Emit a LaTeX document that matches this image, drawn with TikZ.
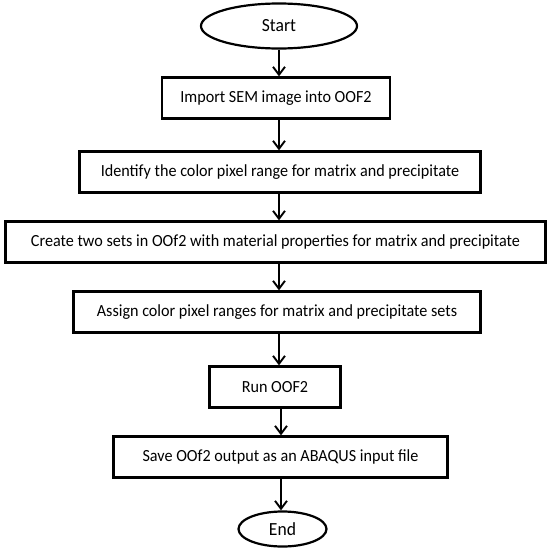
\documentclass[tikz,border=0pt]{standalone}
\usepackage{fontspec}
\setmainfont[FakeStretch=0.95]{Carlito}
\usetikzlibrary{shapes.geometric,arrows.meta}
\begin{document}
\begin{tikzpicture}[x=1pt,y=-1pt,
  stepbox/.style={draw,line width=2.2pt,inner sep=0pt,font=\fontsize{17}{19}\selectfont},
  termnode/.style={ellipse,draw,line width=2.2pt,inner sep=0pt,font=\fontsize{18.5}{20}\selectfont},
  arr/.style={line width=1.9pt,-{Straight Barb[length=8pt,width=12pt,line width=1.9pt]}}]
\useasboundingbox[fill=white] (0,0) rectangle (550,552);
\node[termnode,minimum width=156pt,minimum height=45pt] (start) at (279,26) {Start};
\node[stepbox,minimum width=228pt,minimum height=41pt] (b1) at (276,98) {Import SEM image into OOF2};
\node[stepbox,minimum width=401pt,minimum height=41pt] (b2) at (280,172) {Identify the color pixel range for matrix and precipitate};
\node[stepbox,minimum width=540pt,minimum height=41pt] (b3) at (275.5,242) {Create two sets in OOf2 with material properties for matrix and precipitate};
\node[stepbox,minimum width=407pt,minimum height=41pt] (b4) at (277,312) {Assign color pixel ranges for matrix and precipitate sets};
\node[stepbox,minimum width=131pt,minimum height=41pt] (b5) at (275,387) {Run OOF2};
\node[stepbox,minimum width=334pt,minimum height=41pt] (b6) at (280.5,457) {Save OOf2 output as an ABAQUS input file};
\node[termnode,minimum width=88pt,minimum height=35pt] (end) at (282.5,529) {End};
\coordinate (ax) at (279,0);
\coordinate (bx) at (281,0);
\draw[arr] (start.south -| ax) -- (b1.north -| ax);
\draw[arr] (b1.south -| ax) -- (b2.north -| ax);
\draw[arr] (b2.south -| ax) -- (b3.north -| ax);
\draw[arr] (b3.south -| ax) -- (b4.north -| ax);
\draw[arr] (b4.south -| ax) -- (b5.north -| ax);
\draw[arr] (b5.south -| bx) -- (b6.north -| bx);
\draw[arr] (b6.south -| bx) -- (end.north -| bx);
\end{tikzpicture}
\end{document}
